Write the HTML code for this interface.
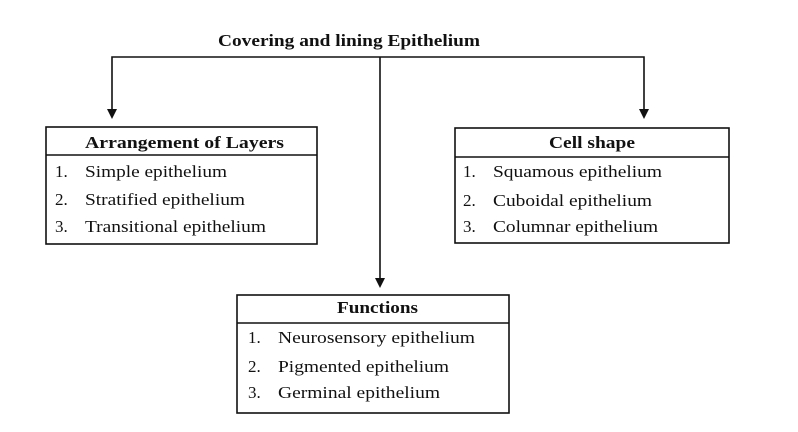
<!DOCTYPE html>
<html><head><meta charset="utf-8"><style>html,body{margin:0;padding:0;background:#fff}svg{display:block}text{font-family:"Liberation Serif",serif}</style></head>
<body>
<svg width="798" height="432" viewBox="0 0 798 432" xmlns="http://www.w3.org/2000/svg" fill="#111">
<g stroke="#111" stroke-width="1.6" fill="none">
<polyline points="112,110 112,57 644,57 644,110"/>
<line x1="380" y1="57" x2="380" y2="279"/>
<rect x="46" y="127" width="271" height="117"/>
<line x1="46" y1="155" x2="317" y2="155"/>
<rect x="455" y="128" width="274" height="115"/>
<line x1="455" y1="157" x2="729" y2="157"/>
<rect x="237" y="295" width="272" height="118"/>
<line x1="237" y1="323" x2="509" y2="323"/>
</g>
<polygon points="107,109 117,109 112,119"/>
<polygon points="639,109 649,109 644,119"/>
<polygon points="375,278 385,278 380,288"/>
<g font-size="17" font-weight="bold">
<text x="218" y="46" textLength="262" lengthAdjust="spacingAndGlyphs">Covering and lining Epithelium</text>
<text x="85" y="148" textLength="199" lengthAdjust="spacingAndGlyphs">Arrangement of Layers</text>
<text x="549" y="148" textLength="86" lengthAdjust="spacingAndGlyphs">Cell shape</text>
<text x="337" y="313" textLength="81" lengthAdjust="spacingAndGlyphs">Functions</text>
</g>
<g font-size="17">
<text x="55" y="177">1.</text><text x="85" y="177" textLength="142" lengthAdjust="spacingAndGlyphs">Simple epithelium</text>
<text x="55" y="205">2.</text><text x="85" y="205" textLength="160" lengthAdjust="spacingAndGlyphs">Stratified epithelium</text>
<text x="55" y="232">3.</text><text x="85" y="232" textLength="181" lengthAdjust="spacingAndGlyphs">Transitional epithelium</text>
<text x="463" y="177">1.</text><text x="493" y="177" textLength="169" lengthAdjust="spacingAndGlyphs">Squamous epithelium</text>
<text x="463" y="206">2.</text><text x="493" y="206" textLength="159" lengthAdjust="spacingAndGlyphs">Cuboidal epithelium</text>
<text x="463" y="232">3.</text><text x="493" y="232" textLength="165" lengthAdjust="spacingAndGlyphs">Columnar epithelium</text>
<text x="248" y="343">1.</text><text x="278" y="343" textLength="197" lengthAdjust="spacingAndGlyphs">Neurosensory epithelium</text>
<text x="248" y="372">2.</text><text x="278" y="372" textLength="171" lengthAdjust="spacingAndGlyphs">Pigmented epithelium</text>
<text x="248" y="398">3.</text><text x="278" y="398" textLength="162" lengthAdjust="spacingAndGlyphs">Germinal epithelium</text>
</g>
</svg>
</body></html>
